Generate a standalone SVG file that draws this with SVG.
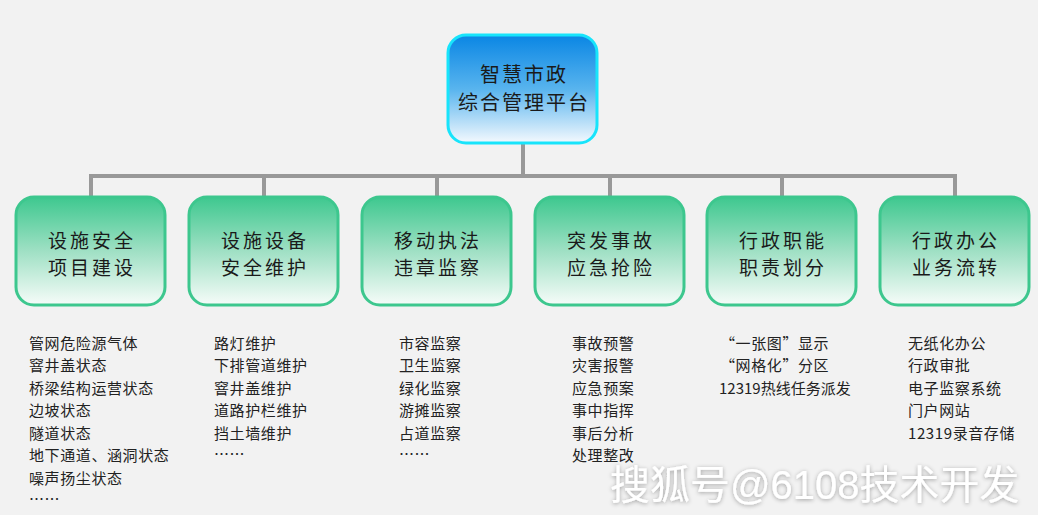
<svg xmlns="http://www.w3.org/2000/svg" width="1038" height="515" viewBox="0 0 1038 515">
<defs>
<linearGradient id="gBlue" x1="0" y1="0" x2="0" y2="1">
<stop offset="0" stop-color="#0a86e4"/>
<stop offset="0.5" stop-color="#58b4ee"/>
<stop offset="1" stop-color="#f4f9fe"/>
</linearGradient>
<linearGradient id="gGreen" x1="0" y1="0" x2="0" y2="1">
<stop offset="0" stop-color="#3ec88f"/>
<stop offset="0.5" stop-color="#9fe0c4"/>
<stop offset="1" stop-color="#f6fcf9"/>
</linearGradient>
<filter id="sh" x="-10%" y="-30%" width="120%" height="160%">
<feGaussianBlur in="SourceAlpha" stdDeviation="2"/>
<feOffset dx="0" dy="1" result="b"/>
<feFlood flood-color="#000" flood-opacity="0.35"/>
<feComposite in2="b" operator="in"/>
<feMerge><feMergeNode/><feMergeNode in="SourceGraphic"/></feMerge>
</filter>
</defs>
<style>
.top{fill:url(#gBlue);stroke:#18e4fb;stroke-width:3}
.box{fill:url(#gGreen);stroke:#3dc78e;stroke-width:3}
.tt{font-family:"Noto Sans CJK SC","Noto Sans",sans-serif;font-size:20px;letter-spacing:2px;fill:#1a1a1a;text-anchor:middle}
.bt{font-family:"Noto Sans CJK SC","Noto Sans",sans-serif;font-size:19px;letter-spacing:3px;fill:#1a1a1a;text-anchor:middle}
.lt{font-family:"Noto Sans CJK SC","Liberation Sans",sans-serif;font-size:15px;letter-spacing:0.6px;fill:#222}
.conn{stroke:#999;stroke-width:4;fill:none}
.wm{font-family:"Liberation Sans","Noto Sans CJK SC",sans-serif;font-size:40px;fill:#ffffff}
</style>
<rect width="1038" height="515" fill="#f2f2f2"/>
<g id="connectors">
<path class="conn" d="M523 143 V176 M91 197 V176 H955 V197 M264 176 V197 M437 176 V197 M610 176 V197 M782 176 V197"/>
</g>
<g id="root">
<rect class="top" x="448" y="35" width="149" height="108" rx="18"/>
<text class="tt" x="524" y="82">智慧市政</text>
<text class="tt" x="524" y="110">综合管理平台</text>
</g>
<g id="n1">
<rect class="box" x="16" y="197" width="149" height="108" rx="18"/>
<text class="bt" x="92" y="248">设施安全</text>
<text class="bt" x="92" y="275">项目建设</text>
</g>
<g id="n2">
<rect class="box" x="189" y="197" width="149" height="108" rx="18"/>
<text class="bt" x="265" y="248">设施设备</text>
<text class="bt" x="265" y="275">安全维护</text>
</g>
<g id="n3">
<rect class="box" x="362" y="197" width="149" height="108" rx="18"/>
<text class="bt" x="438" y="248">移动执法</text>
<text class="bt" x="438" y="275">违章监察</text>
</g>
<g id="n4">
<rect class="box" x="535" y="197" width="149" height="108" rx="18"/>
<text class="bt" x="611" y="248">突发事故</text>
<text class="bt" x="611" y="275">应急抢险</text>
</g>
<g id="n5">
<rect class="box" x="707" y="197" width="149" height="108" rx="18"/>
<text class="bt" x="783" y="248">行政职能</text>
<text class="bt" x="783" y="275">职责划分</text>
</g>
<g id="n6">
<rect class="box" x="880" y="197" width="149" height="108" rx="18"/>
<text class="bt" x="956" y="248">行政办公</text>
<text class="bt" x="956" y="275">业务流转</text>
</g>
<g id="list1" class="lt">
<text x="29" y="349">管网危险源气体</text>
<text x="29" y="371">窨井盖状态</text>
<text x="29" y="394">桥梁结构运营状态</text>
<text x="29" y="416">边坡状态</text>
<text x="29" y="439">隧道状态</text>
<text x="29" y="461">地下通道、涵洞状态</text>
<text x="29" y="484">噪声扬尘状态</text>
<text x="29" y="505">……</text>
</g>
<g id="list2" class="lt">
<text x="214" y="349">路灯维护</text>
<text x="214" y="371">下排管道维护</text>
<text x="214" y="394">窨井盖维护</text>
<text x="214" y="416">道路护栏维护</text>
<text x="214" y="439">挡土墙维护</text>
<text x="214" y="460">……</text>
</g>
<g id="list3" class="lt">
<text x="399" y="349">市容监察</text>
<text x="399" y="371">卫生监察</text>
<text x="399" y="394">绿化监察</text>
<text x="399" y="416">游摊监察</text>
<text x="399" y="439">占道监察</text>
<text x="399" y="460">……</text>
</g>
<g id="list4" class="lt">
<text x="572" y="349">事故预警</text>
<text x="572" y="371">灾害报警</text>
<text x="572" y="394">应急预案</text>
<text x="572" y="416">事中指挥</text>
<text x="572" y="439">事后分析</text>
<text x="572" y="461">处理整改</text>
</g>
<g id="list5" class="lt">
<text x="720" y="349">“一张图”显示</text>
<text x="720" y="371">“网格化”分区</text>
<text x="719" y="394" letter-spacing="0">12319热线任务派发</text>
</g>
<g id="list6" class="lt">
<text x="908" y="349">无纸化办公</text>
<text x="908" y="371">行政审批</text>
<text x="908" y="394">电子监察系统</text>
<text x="908" y="416">门户网站</text>
<text x="908" y="439">12319录音存储</text>
</g>
<text class="wm" x="610" y="499" filter="url(#sh)">搜狐号@6108技术开发</text>
</svg>
